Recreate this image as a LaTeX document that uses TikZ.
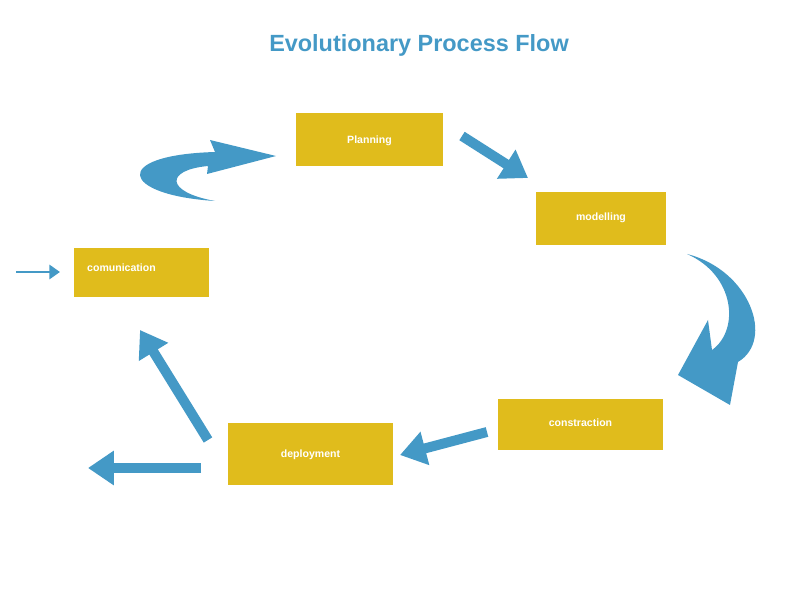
\documentclass[tikz,border=0pt]{standalone}
\usepackage{fontspec}
\setmainfont{Liberation Sans}
\usetikzlibrary{arrows.meta}
\definecolor{box}{HTML}{E0BC1C}
\definecolor{arr}{HTML}{4499C6}
\begin{document}
\begin{tikzpicture}[x=0.03cm,y=-0.03cm,
  bx/.style={fill=box,draw=none,text=white,font=\bfseries\small,inner sep=0},
  big/.style={draw=arr,line width=8.5pt,-{Triangle[length=22pt,width=28pt]}},
  crescent/.style={fill=arr,draw=none}]
\useasboundingbox (0,0) rectangle (800,600);
\node[text=arr,font=\bfseries\Large\fontsize{20}{24}\selectfont] (title) at (419,45) {Evolutionary Process Flow};
\fill[box] (296,113) rectangle (443,166); \node[bx] (plan) at (369.5,141) {Planning};
\fill[box] (536,192) rectangle (666,245); \node[bx] (mod) at (601,218) {modelling};
\fill[box] (74,248) rectangle (209,297); \node[bx,anchor=west] (com) at (87,268) {comunication};
\fill[box] (498,399) rectangle (663,450); \node[bx] (con) at (580.5,423) {constraction};
\fill[box] (228,423) rectangle (393,485); \node[bx] (dep) at (310.5,455) {deployment};
\coordinate (s0) at (16,272); \coordinate (s1) at (60,272);
\draw[draw=arr,line width=2.5pt,-{Triangle[length=9pt,width=12pt]}] (s0) -- (s1);
\coordinate (a0) at (462,136); \coordinate (a1) at (528,178);
\draw[big] (a0) -- (a1);
\coordinate (b0) at (487,432); \coordinate (b1) at (400,455);
\draw[big] (b0) -- (b1);
\coordinate (c0) at (201,468); \coordinate (c1) at (88,468);
\draw[big] (c0) -- (c1);
\coordinate (d0) at (208,440); \coordinate (d1) at (140,330);
\draw[big] (d0) -- (d1);
\fill[crescent] (215,201) .. controls (120,195) and (110,155) .. (215,152) -- (210,140) -- (276,156) -- (207,174) -- (208,166) .. controls (165,170) and (165,192) .. (215,201) -- cycle;
\fill[crescent] (687,254) .. controls (750,270) and (775,340) .. (738,362) -- (730,405) -- (678,375) -- (708,320) -- (712,350) .. controls (740,330) and (735,275) .. (687,254) -- cycle;
\end{tikzpicture}
\end{document}
